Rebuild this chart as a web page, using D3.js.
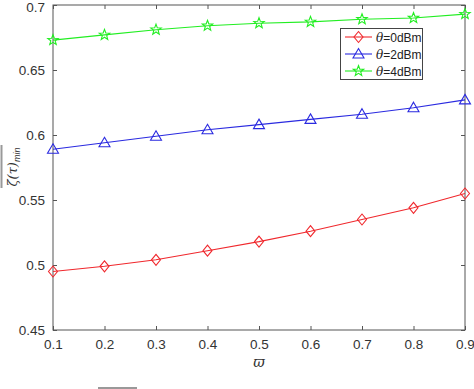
<!DOCTYPE html>
<html><head><meta charset="utf-8">
<script src="https://cdn.jsdelivr.net/npm/d3@7"></script>
<style>body{margin:0;background:#fff}svg{display:block}text{font-family:"Liberation Sans",Arial,sans-serif}</style>
</head><body>
<svg id="c" width="474" height="389"></svg>
<script>
const xs = [0.1,0.2,0.3,0.4,0.5,0.6,0.7,0.8,0.9];
const red = [0.495,0.499,0.504,0.511,0.518,0.526,0.535,0.544,0.555];
const blue = [0.589,0.594,0.599,0.604,0.608,0.612,0.616,0.621,0.627];
const green = [0.673,0.677,0.681,0.684,0.686,0.687,0.689,0.690,0.693];
const xTicks = [0.1,0.2,0.3,0.4,0.5,0.6,0.7,0.8,0.9];
const yTicks = [0.45,0.5,0.55,0.6,0.65,0.7];
const names = ["=0dBm","=2dBm","=4dBm"];

const svg = d3.select("#c");
const L=53,R=465,T=5,B=330;
const x = d3.scaleLinear().domain([0.1,0.9]).range([L,R]);
const y = d3.scaleLinear().domain([0.45,0.7]).range([B,T]);
const ax="#555";

svg.append("rect").attr("x",L).attr("y",T).attr("width",R-L).attr("height",B-T).attr("fill","none").attr("stroke",ax).attr("stroke-width",1);
const gx = svg.append("g").attr("transform",`translate(0,${B})`).call(d3.axisBottom(x).tickValues(xTicks).tickSize(-4).tickPadding(9).tickFormat(d3.format(".1f")));
const gy = svg.append("g").attr("transform",`translate(${L},0)`).call(d3.axisLeft(y).tickValues(yTicks).tickSize(-4).tickPadding(8).tickFormat(d=>String(+d.toFixed(2))));
const gxt = svg.append("g").attr("transform",`translate(0,${T})`).call(d3.axisTop(x).tickValues(xTicks).tickSize(-4).tickFormat(""));
const gyr = svg.append("g").attr("transform",`translate(${R},0)`).call(d3.axisRight(y).tickValues(yTicks).tickSize(-4).tickFormat(""));
[gx,gy,gxt,gyr].forEach(g=>{g.select(".domain").remove();g.selectAll("line").attr("stroke",ax);g.selectAll("text").attr("fill","#333").style("font-size","13.5px").style("font-family","'Liberation Sans',Arial,sans-serif");});
gx.selectAll("text").attr("dy","0.71em");
gy.selectAll("text").filter(d=>d===0.7).attr("dy","0.5em");

const series=[
 {v:red,c:"#f0282d",m:"diamond"},
 {v:blue,c:"#2a2ae0",m:"triangle"},
 {v:green,c:"#22ee22",m:"star"}];
const line=d3.line().x((d,i)=>x(xs[i])).y(d=>y(d));
function marker(g,type,c,cx,cy){
  if(type==="diamond") g.append("path").attr("d",`M${cx},${cy-5.5}L${cx+4.5},${cy}L${cx},${cy+5.5}L${cx-4.5},${cy}Z`).attr("fill","none").attr("stroke",c).attr("stroke-width",1.1);
  else if(type==="triangle") g.append("path").attr("d",`M${cx},${cy-5.5}L${cx+5.5},${cy+4}L${cx-5.5},${cy+4}Z`).attr("fill","none").attr("stroke",c).attr("stroke-width",1.1);
  else {
    const pts=[];for(let k=0;k<10;k++){const r=k%2?2.3:5.5;const a=-Math.PI/2+k*Math.PI/5;pts.push([cx+r*Math.cos(a),cy+r*Math.sin(a)]);}
    g.append("path").attr("d","M"+pts.map(p=>p.join(",")).join("L")+"Z").attr("fill","none").attr("stroke",c).attr("stroke-width",1.1);
  }
}
series.forEach(s=>{
  svg.append("path").datum(s.v).attr("d",line).attr("fill","none").attr("stroke",s.c).attr("stroke-width",1.1);
  const g=svg.append("g");
  s.v.forEach((d,i)=>marker(g,s.m,s.c,x(xs[i]),y(d)));
});

const lg=svg.append("g");
lg.append("rect").attr("x",340.5).attr("y",28.5).attr("width",82).attr("height",51).attr("fill","#fff").attr("stroke","#444").attr("stroke-width",1);
series.forEach((s,i)=>{
  const yy=37+i*17;
  lg.append("line").attr("x1",345).attr("x2",372).attr("y1",yy).attr("y2",yy).attr("stroke",s.c).attr("stroke-width",1.1);
  marker(lg,s.m,s.c,358.5,yy);
  const t=lg.append("text").attr("x",376).attr("y",yy+4.5).style("font-size","12px").attr("fill","#222");
  t.append("tspan").text("θ").style("font-style","italic").style("font-family","'DejaVu Serif',serif");
  t.append("tspan").text(names[i]);
});

svg.append("text").attr("x",(L+R)/2).attr("y",367).attr("text-anchor","middle").style("font-size","14px").style("font-style","italic").style("font-family","'DejaVu Serif',serif").attr("fill","#333").text("ϖ");
const yl=svg.append("text").attr("transform","translate(17,167) rotate(-90)").attr("text-anchor","middle").style("font-size","13px").attr("fill","#333");
yl.append("tspan").text("ζ(τ)").style("font-style","italic").style("font-family","'DejaVu Serif',serif");
yl.append("tspan").text("min").style("font-style","italic").style("font-size","9px").attr("dy","3");
svg.append("line").attr("x1",1.5).attr("x2",1.5).attr("y1",145).attr("y2",188).attr("stroke","#999").attr("stroke-width",2);
svg.append("line").attr("x1",98).attr("x2",137).attr("y1",388).attr("y2",388).attr("stroke","#999").attr("stroke-width",2);
</script>
</body></html>
